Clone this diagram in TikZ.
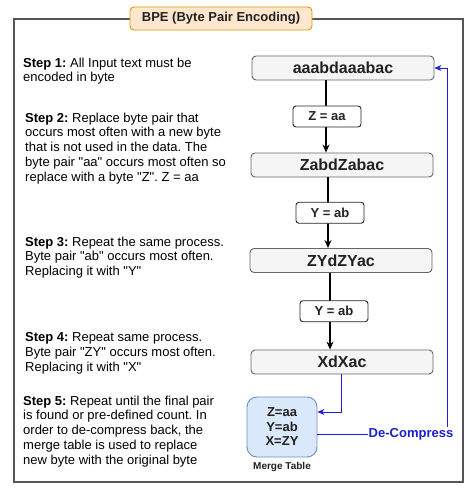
\documentclass[tikz,border=0pt]{standalone}
\usepackage{fontspec}
\setmainfont{Liberation Sans}[Ligatures=TeXOff]
\usetikzlibrary{arrows.meta}
\frenchspacing
\definecolor{gborder}{HTML}{666666}
\definecolor{gfill}{HTML}{F5F5F5}
\definecolor{tfill}{HTML}{FFE6CC}
\definecolor{tborder}{HTML}{D79B00}
\definecolor{mfill}{HTML}{DAE8FC}
\definecolor{mborder}{HTML}{6C8EBF}
\definecolor{framec}{HTML}{555555}
\definecolor{txt}{HTML}{222222}
\definecolor{bl}{RGB}{30,30,215}
\tikzset{
  gbox/.style={draw=gborder, fill=gfill, rounded corners=4, line width=0.9,
    minimum width=182, minimum height=24, inner sep=0,
    font=\fontsize{16}{19}\selectfont\bfseries, text=txt},
  lbl/.style={draw=black!85, fill=white, rounded corners=3, line width=0.9,
    minimum width=68, minimum height=21, inner sep=0,
    font=\fontsize{13}{15}\selectfont\bfseries, text=txt},
  steptxt/.style={anchor=north west, inner sep=0, align=left,
    font=\fontsize{13}{14.8}\selectfont\frenchspacing, text=black},
  arr/.style={line width=1.1, -{Stealth[length=8pt,width=7pt]}},
  barr/.style={draw=bl, line width=0.8, -{Stealth[length=7pt,width=6pt]}},
  bline/.style={draw=bl, line width=0.8},
}
\begin{document}
\begin{tikzpicture}[x=1pt,y=-1pt]
\useasboundingbox (0,0) rectangle (474,494);
% frame
\draw[framec, line width=1.2] (14,19) rectangle (463,482);
\node[draw=tborder, fill=tfill, rounded corners=4, line width=0.9,
  minimum width=182, minimum height=23, inner sep=0,
  font=\fontsize{13}{15}\selectfont\bfseries, text=txt] (title) at (221,18.5) {BPE (Byte Pair Encoding)};
% step texts
\node[steptxt] (s1) at (23,57.5) {\textbf{Step 1:} All Input text must be\\encoded in byte};
\node[steptxt] (s2) at (25,112.5) {\textbf{Step 2:} Replace byte pair that\\occurs most often with a new byte\\that is not used in the data. The\\byte pair "aa" occurs most often so\\replace with a byte "Z". Z = aa};
\node[steptxt] (s3) at (25,236.5) {\textbf{Step 3:} Repeat the same process.\\Byte pair "ab" occurs most often.\\Replacing it with "Y"};
\node[steptxt] (s4) at (25,332.5) {\textbf{Step 4:} Repeat same process.\\Byte pair "ZY" occurs most often.\\Replacing it with "X"};
\node[steptxt] (s5) at (23,395.5) {\textbf{Step 5:} Repeat until the final pair\\is found or pre-defined count. In\\order to de-compress back, the\\merge table is used to replace\\new byte with the original byte};
% main nodes
\node[gbox] (n1) at (343,68) {aaabdaaabac};
\node[gbox] (n2) at (342,165) {ZabdZabac};
\node[gbox] (n3) at (341,260.5) {ZYdZYac};
\node[gbox] (n4) at (342,362) {XdXac};
% edges with labels
\draw[arr] (n1.south -| 326,0) -- node[lbl, xshift=1] (l1) {Z = aa} (n2.north -| 326,0);
\draw[arr] (n2.south -| 328,0) -- node[lbl, xshift=2] (l2) {Y = ab} (n3.north -| 328,0);
\draw[arr] (n3.south -| 330,0) -- node[lbl, xshift=4] (l3) {Y = ab} (n4.north -| 330,0);
% merge table
\node[draw=mborder, fill=mfill, rounded corners=10, line width=0.9,
  minimum width=70, minimum height=60, inner sep=0, align=center,
  font=\fontsize{13}{14.5}\selectfont\bfseries, text=txt] (mt) at (282,427) {Z=aa\\Y=ab\\X=ZY};
\node[inner sep=0, font=\fontsize{10}{12}\selectfont\bfseries, text=txt] (mtl) at (282,467) {Merge Table};
% blue connectors
\draw[barr] (n4.south -| 341,0) |- (mt.east |- 0,412);
\node[inner sep=1, font=\fontsize{13}{15}\selectfont\bfseries, text=bl] (dc) at (411,434) {De-Compress};
\draw[bline] (mt.east |- dc.west) -- (dc.west);
\draw[barr] (dc.north -| 447,0) |- (n1.east);
\end{tikzpicture}
\end{document}
